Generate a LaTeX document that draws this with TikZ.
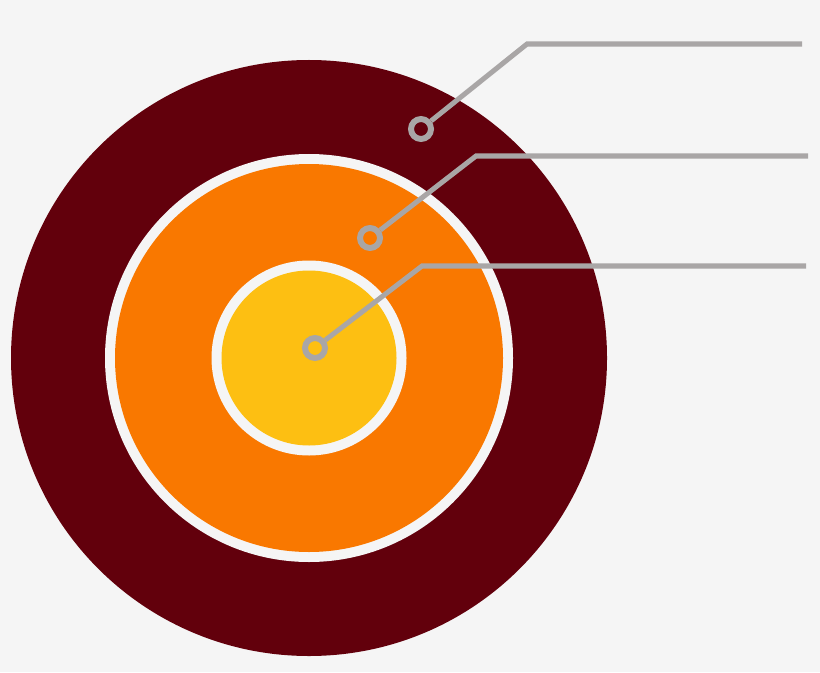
\documentclass[tikz,border=0pt]{standalone}

\definecolor{paper}{HTML}{F5F5F5}
\definecolor{wine}{HTML}{62000C}
\definecolor{tangerine}{HTML}{F97800}
\definecolor{amber}{HTML}{FDBF12}
\definecolor{leadgray}{HTML}{A9A6A6}

\begin{document}
\begin{tikzpicture}[x=0.02cm, y=-0.02cm,
    marker/.style={circle, draw=leadgray, line width=3.4pt,
        minimum size=0.4cm, inner sep=0pt},
    leaderline/.style={draw=leadgray, line width=2.85pt}]
    \def\cx{309}
    \def\cy{358}

    % Background
    \fill[paper] (0,0) rectangle (820,672);
    \useasboundingbox (0,0) rectangle (820,672);

    % Outer ring
    \fill[wine] (\cx,\cy) circle[radius=298];

    % Middle ring
    \fill[paper] (\cx,\cy) circle[radius=204];
    \fill[tangerine] (\cx,\cy) circle[radius=194];

    % Core
    \fill[paper] (\cx,\cy) circle[radius=97.5];
    \fill[amber] (\cx,\cy) circle[radius=87.5];

    % Leaders
    \foreach \i/\mx/\my/\kx/\ky/\ex in {1/421/129/527/44/802,
                                        2/370/238/476/156/808,
                                        3/315/348/422/266/806} {
        \node[marker] (m\i) at (\mx,\my) {};
        \coordinate (k\i) at (\kx,\ky);
        \coordinate (e\i) at (\ex,\ky);
        \draw[leaderline]
            (m\i) -- (k\i) -- (e\i);
    }
\end{tikzpicture}
\end{document}
